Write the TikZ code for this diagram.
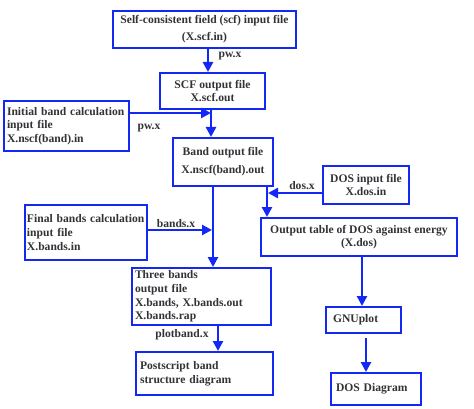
\documentclass[tikz,border=0pt]{standalone}
\usepackage{fontspec}
\setmainfont{Liberation Serif}
\usetikzlibrary{arrows.meta}
\definecolor{flowblue}{RGB}{20,40,245}
\definecolor{flowtext}{RGB}{50,50,55}

\tikzset{
  fbox/.style={draw=flowblue, line width=2pt, anchor=north west, inner xsep=3pt, inner ysep=2pt,
    font=\fontsize{11.6}{13.7}\selectfont\bfseries, text=flowtext},
  farrow/.style={draw=flowblue, line width=2.5pt, -{Triangle[length=10pt,width=10pt]}},
  flabel/.style={font=\fontsize{11.6}{13}\selectfont\bfseries, text=flowtext, inner sep=0pt}
}

\begin{document}
\begin{tikzpicture}[x=1pt, y=-1pt]
\useasboundingbox (0,0) rectangle (474,409);
% boxes
\node[fbox, align=center, minimum width=183pt, minimum height=37pt] (scfin) at (112,10) {Self-consistent field (scf) input file\\[3pt](X.scf.in)};
\node[fbox, align=center, minimum width=105pt, minimum height=36pt] (scfout) at (159,72) {SCF output file\\X.scf.out};
\node[fbox, align=left, text width=119pt, minimum height=50pt] (initin) at (3,100) {Initial band calculation\\input file\\X.nscf(band).in};
\node[fbox, align=center, minimum width=100pt, minimum height=48pt] (bandout) at (172,137) {Band output file\\[4pt]X.nscf(band).out};
\node[fbox, align=center, minimum width=86pt, minimum height=38pt] (dosin) at (322,165) {DOS input file\\X.dos.in};
\node[fbox, align=center, minimum width=196pt, minimum height=38pt] (dostable) at (260,217) {Output table of DOS against energy\\(X.dos)};
\node[fbox, align=left, text width=118pt, minimum height=55pt, inner xsep=2pt] (finalin) at (24,204) {Final bands calculation\\input file\\X.bands.in};
\node[fbox, align=left, text width=133pt, minimum height=57pt] (three) at (131,267) {Three bands\\output file\\X.bands, X.bands.out\\X.bands.rap};
\node[fbox, align=left, text width=129pt, minimum height=43pt, inner xsep=4pt] (post) at (135,351) {Postscript band\\structure diagram};
\node[fbox, align=left, text width=61pt, minimum height=26pt, inner xsep=7pt] (gnu) at (325,306) {GNUplot};
\node[fbox, align=left, text width=80pt, minimum height=32pt, inner xsep=5pt] (dosdiag) at (330,372) {DOS Diagram};

% joins on the vertical arrows
\coordinate (j1) at (211,113);
\coordinate (j2) at (268,193);
\coordinate (j3) at (212,230);

% arrows
\draw[farrow] (scfin.south -| 208,0) -- (scfout.north -| 208,0);
\draw[farrow] (scfout.south -| 211,0) -- (bandout.north -| 211,0);
\draw[farrow] (initin.east |- j1) -- (j1);
\draw[farrow] (bandout.south -| 213,0) -- (three.north -| 213,0);
\draw[farrow] (bandout.south -| 267,0) -- (dostable.north -| 267,0);
\draw[farrow] (dosin.west |- j2) -- (j2);
\draw[farrow] (finalin.east |- j3) -- (j3);
\draw[farrow] (three.south -| 218,0) -- (post.north -| 218,0);
\draw[farrow] (dostable.south -| 362,0) -- (gnu.north -| 362,0);
\draw[farrow, shorten <=4pt] (gnu.south -| 366,0) -- (dosdiag.north -| 366,0);

% labels
\node[flabel] (pw1) at (230,56) {pw.x};
\node[flabel] (pw2) at (149,128) {pw.x};
\node[flabel] (dosx) at (302,186) {dos.x};
\node[flabel] (bandsx) at (176,224) {bands.x};
\node[flabel] (plotx) at (182,335) {plotband.x};
\end{tikzpicture}
\end{document}
